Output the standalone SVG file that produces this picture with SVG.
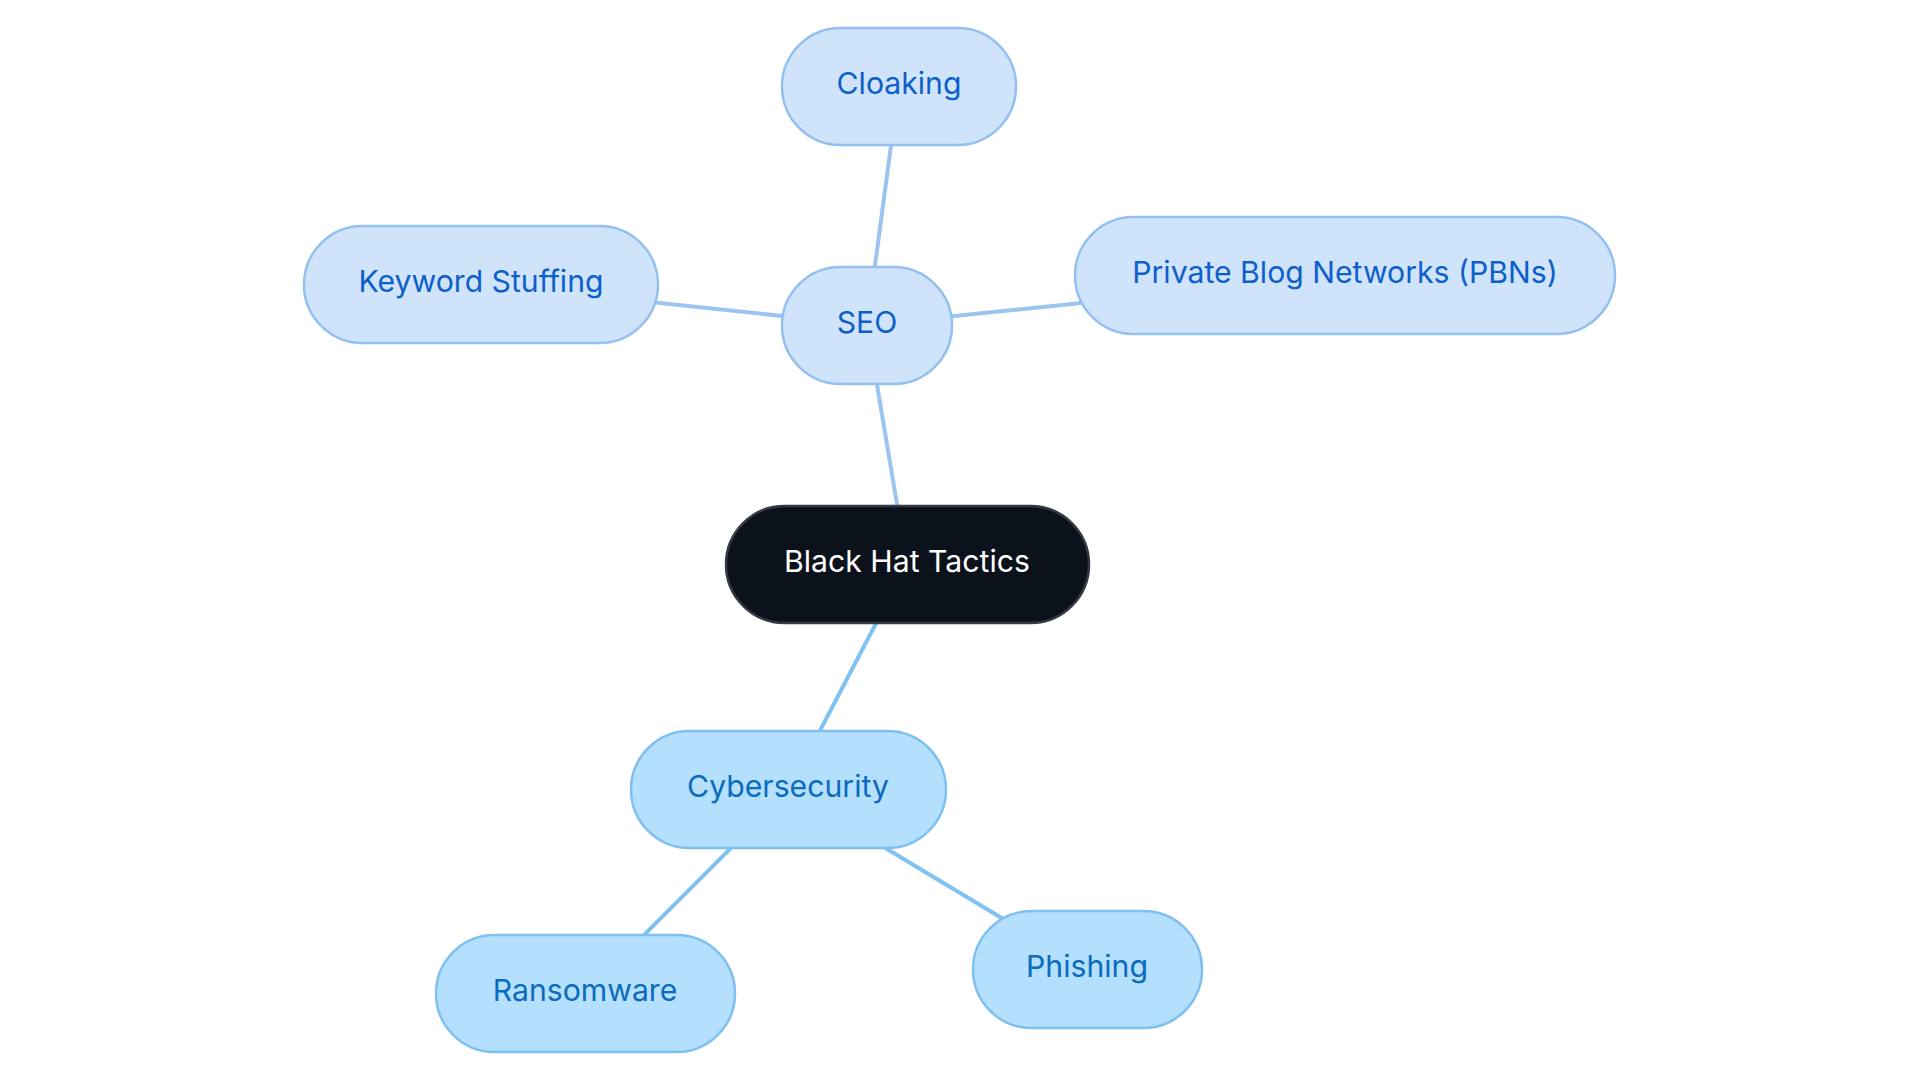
<svg xmlns="http://www.w3.org/2000/svg" width="1920" height="1083" viewBox="0 0 1920 1083">
<style>
.seo rect{fill:#cfe3fb;stroke:#94c0f0;stroke-width:2.5}
.seo text{fill:#0d5fc9}
.cyb rect{fill:#b4dffd;stroke:#7ec0f0;stroke-width:2.5}
.cyb text{fill:#0a6bbf}
.root rect{fill:#0c121c;stroke:#343a44;stroke-width:2.5}
.root text{fill:#ffffff}
text{font-family:Inter,"Noto Sans",sans-serif;font-size:30.2px;text-anchor:middle;dominant-baseline:central}
.l1{stroke:#9cc4f0;stroke-width:4;fill:none}
.l2{stroke:#80c2f2;stroke-width:4;fill:none}
</style>
<rect width="1920" height="1083" fill="#ffffff"/>
<g id="connectors">
<line class="l1" x1="907" y1="564" x2="867" y2="325"/>
<line class="l1" x1="867" y1="325" x2="899" y2="86"/>
<line class="l1" x1="867" y1="325" x2="480" y2="284"/>
<line class="l1" x1="867" y1="325" x2="1345" y2="276"/>
<line class="l2" x1="907" y1="564" x2="789" y2="790"/>
<line class="l2" x1="789" y1="790" x2="585" y2="994"/>
<line class="l2" x1="789" y1="790" x2="1088" y2="970"/>
</g>
<g id="node-root" class="root">
<rect x="726" y="506" width="363" height="117" rx="58.5"/>
<text x="907" y="561">Black Hat Tactics</text>
</g>
<g id="node-seo" class="seo">
<rect x="782" y="267" width="170" height="117" rx="58.5"/>
<text x="867" y="322">SEO</text>
</g>
<g id="node-cloaking" class="seo">
<rect x="782" y="28" width="234" height="117" rx="58.5"/>
<text x="899" y="83">Cloaking</text>
</g>
<g id="node-keyword" class="seo">
<rect x="304" y="226" width="354" height="117" rx="58.5"/>
<text x="481" y="281">Keyword Stuffing</text>
</g>
<g id="node-pbn" class="seo">
<rect x="1075" y="217" width="540" height="117" rx="58.5"/>
<text x="1345" y="272">Private Blog Networks (PBNs)</text>
</g>
<g id="node-cyber" class="cyb">
<rect x="631" y="731" width="315" height="117" rx="58.5"/>
<text x="788" y="786">Cybersecurity</text>
</g>
<g id="node-ransomware" class="cyb">
<rect x="436" y="935" width="299" height="117" rx="58.5"/>
<text x="585" y="990">Ransomware</text>
</g>
<g id="node-phishing" class="cyb">
<rect x="973" y="911" width="229" height="117" rx="58.5"/>
<text x="1087" y="966">Phishing</text>
</g>
</svg>
